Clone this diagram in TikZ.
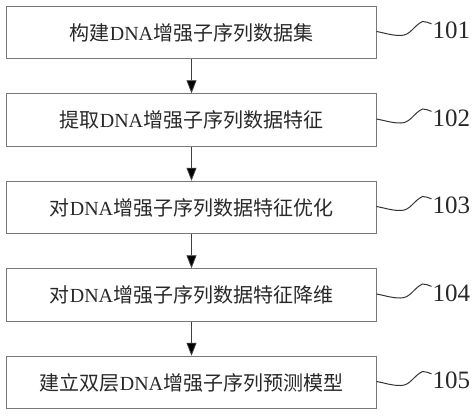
\documentclass[tikz,border=0pt]{standalone}
\usepackage{fontspec}
\usepackage{tikz}
\usetikzlibrary{positioning,arrows.meta}
\setmainfont{Liberation Serif}
\newfontfamily\cjk{Noto Sans CJK SC}
\definecolor{boxgray}{RGB}{120,120,120}
\definecolor{inkgray}{RGB}{40,40,40}

\begin{document}
\begin{tikzpicture}[x=1bp, y=1bp,
    stepbox/.style={draw=boxgray, line width=1bp, minimum width=369bp, minimum height=52.5bp,
                    inner sep=0pt, text=inkgray, font=\cjk\fontsize{20bp}{24bp}\selectfont},
    flow/.style={draw=black!75, line width=0.8bp, -{Triangle[width=10bp, length=13bp, fill=black]}},
    wave/.style={draw=black!80, line width=1bp},
    numlabel/.style={inner sep=0pt, anchor=west, text=inkgray, font=\fontsize{25bp}{30bp}\selectfont}
]
\useasboundingbox (0,0) rectangle (474,417);
            \node[stepbox] (b1) at (191.5,384.5) {构建{\rmfamily DNA}增强子序列数据集};
            \node[stepbox, below=34bp of b1] (b2) {提取{\rmfamily DNA}增强子序列数据特征};
            \node[stepbox, below=34bp of b2] (b3) {对{\rmfamily DNA}增强子序列数据特征优化};
            \node[stepbox, below=34bp of b3] (b4) {对{\rmfamily DNA}增强子序列数据特征降维};
            \node[stepbox, below=34bp of b4] (b5) {建立双层{\rmfamily DNA}增强子序列预测模型};

            \draw[flow] (b1) -- (b2);
            \draw[flow] (b2) -- (b3);
            \draw[flow] (b3) -- (b4);
            \draw[flow] (b4) -- (b5);

            % step numbers with wavy leaders
            \foreach \i in {1,...,5}{
                \node[numlabel] (l\i) at ([xshift=56bp, yshift=2bp]b\i.east) {10\i};
                \draw[wave] ([yshift=1bp]b\i.east) to[out=-10, in=180] ++(24bp,-4bp)
                    to[out=0, in=205] ++(22bp,14bp) to[out=0, in=160] ([xshift=-1bp, yshift=-2bp]l\i.north west);
            }
        \end{tikzpicture}
\end{document}
